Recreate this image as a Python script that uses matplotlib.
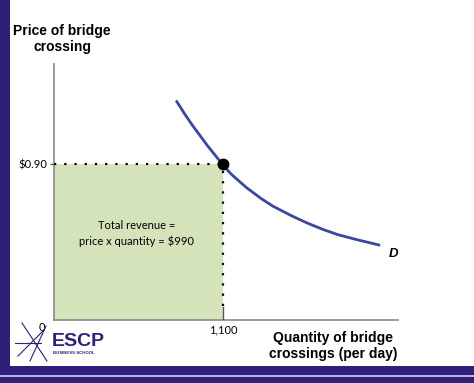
import matplotlib
matplotlib.use("Agg")
import matplotlib.pyplot as plt
from matplotlib.patches import Rectangle
from matplotlib.lines import Line2D

# demand curve (quantity per day, price in $)
demand_q = [800, 850, 900, 950, 1000, 1050, 1100, 1150, 1200, 1256,
            1350, 1425, 1550, 1650, 1750, 1850, 1970, 2115]
demand_p = [1.26, 1.19, 1.125, 1.065, 1.005, 0.95, 0.895, 0.845, 0.805, 0.762,
            0.70, 0.657, 0.600, 0.559, 0.523, 0.492, 0.464, 0.433]

price = 0.90
quantity = 1100
revenue = price * quantity
x_ticks = [0, quantity]
x_tick_labels = ["0", "1,100"]
y_ticks = [price]
y_tick_labels = ["$0.90"]

W, H = 474, 383
PURPLE = "#2f1f78"
CURVE = "#3a48a0"
GREEN = "#d5e3bb"
AXIS = "#8a8a8a"


def fx(x):
    return x / W


def fy(y):
    return 1 - y / H


fig = plt.figure(figsize=(W / 100, H / 100), dpi=100)
fig.patch.set_facecolor("white")

# frame of the slide
fig.add_artist(Rectangle((0, 0), fx(10), 1, transform=fig.transFigure,
                         color=PURPLE, lw=0))
fig.add_artist(Rectangle((0, 0), 1, fy(366), transform=fig.transFigure,
                         color=PURPLE, lw=0))
fig.add_artist(Rectangle((0, fy(376.5)), 1, 2 / H, transform=fig.transFigure,
                         color="#b9b2dc", lw=0))

ax = fig.add_axes([fx(54), fy(320), (398 - 54) / W, (320 - 64) / H])
ax.set_facecolor("none")
ax.set_xlim(0, 2240)
ax.set_ylim(0, 1.477)

# total revenue box
ax.add_patch(Rectangle((0, 0), quantity, price, color=GREEN, lw=0, zorder=1))
ax.plot([0, quantity], [price, price], color="black", lw=1.6,
        linestyle=(0, (1, 3.6)), zorder=3)
ax.plot([quantity, quantity], [0.08, price], color="black", lw=1.6,
        linestyle=(0, (1, 3.6)), zorder=3)
ax.plot([quantity, quantity], [0, 0.075], color="#555555", lw=1.0, zorder=3)

ax.plot(demand_q, demand_p, color=CURVE, lw=2.0, solid_joinstyle="round",
        zorder=4)
ax.plot([quantity], [price], "o", color="black", ms=7.5, zorder=5)

ax.text(quantity / 2 - 10, 0.50,
        "Total revenue =\nprice x quantity = ${:.0f}".format(revenue),
        ha="center", va="center", fontsize=8, family="Lato",
        linespacing=1.5, zorder=6)
ax.text(demand_q[-1] + 95, demand_p[-1] - 0.055, "D", fontsize=9.5,
        fontweight="bold", style="italic", family="Liberation Sans",
        ha="center", va="center")

for s in ["top", "right"]:
    ax.spines[s].set_visible(False)
for s in ["left", "bottom"]:
    ax.spines[s].set_color(AXIS)
    ax.spines[s].set_linewidth(1.2)

ax.set_yticks(y_ticks)
ax.set_yticklabels(y_tick_labels, family="Lato", fontsize=8)
ax.tick_params(axis="y", length=3, width=1, color="#555555", pad=2)
ax.set_xticks(x_ticks[1:])
ax.set_xticklabels(x_tick_labels[1:], family="Lato", fontsize=8)
ax.tick_params(axis="x", length=0, pad=3)
# origin label sits left of the corner
ax.annotate(x_tick_labels[0], (x_ticks[0], 0), xytext=(-12, -2),
            textcoords="offset pixels", ha="center", va="top",
            fontsize=8, family="Lato")

fig.text(fx(62), fy(39), "Price of bridge\ncrossing", ha="center",
         va="center", fontsize=10, fontweight="bold", family="Liberation Sans",
         linespacing=1.2)
fig.text(fx(333), fy(346), "Quantity of bridge\ncrossings (per day)",
         ha="center", va="center", fontsize=10, fontweight="bold",
         family="Liberation Sans", linespacing=1.2)

# ESCP logo
for (x0, y0, x1, y1) in [(22, 323, 47, 361), (15, 343, 41, 343),
                         (30, 361, 46, 326), (18, 356, 44, 330)]:
    fig.add_artist(Line2D([fx(x0), fx(x1)], [fy(y0), fy(y1)],
                          transform=fig.transFigure, color=PURPLE, lw=0.8))
fig.text(fx(52), fy(341), "ESCP", ha="left", va="center", fontsize=14,
         fontweight="bold", color=PURPLE, family="Liberation Sans")
fig.text(fx(53), fy(353), "BUSINESS SCHOOL", ha="left", va="center",
         fontsize=3.2, fontweight="bold", color=PURPLE,
         family="Liberation Sans")

fig.savefig("out.png", dpi=100)
